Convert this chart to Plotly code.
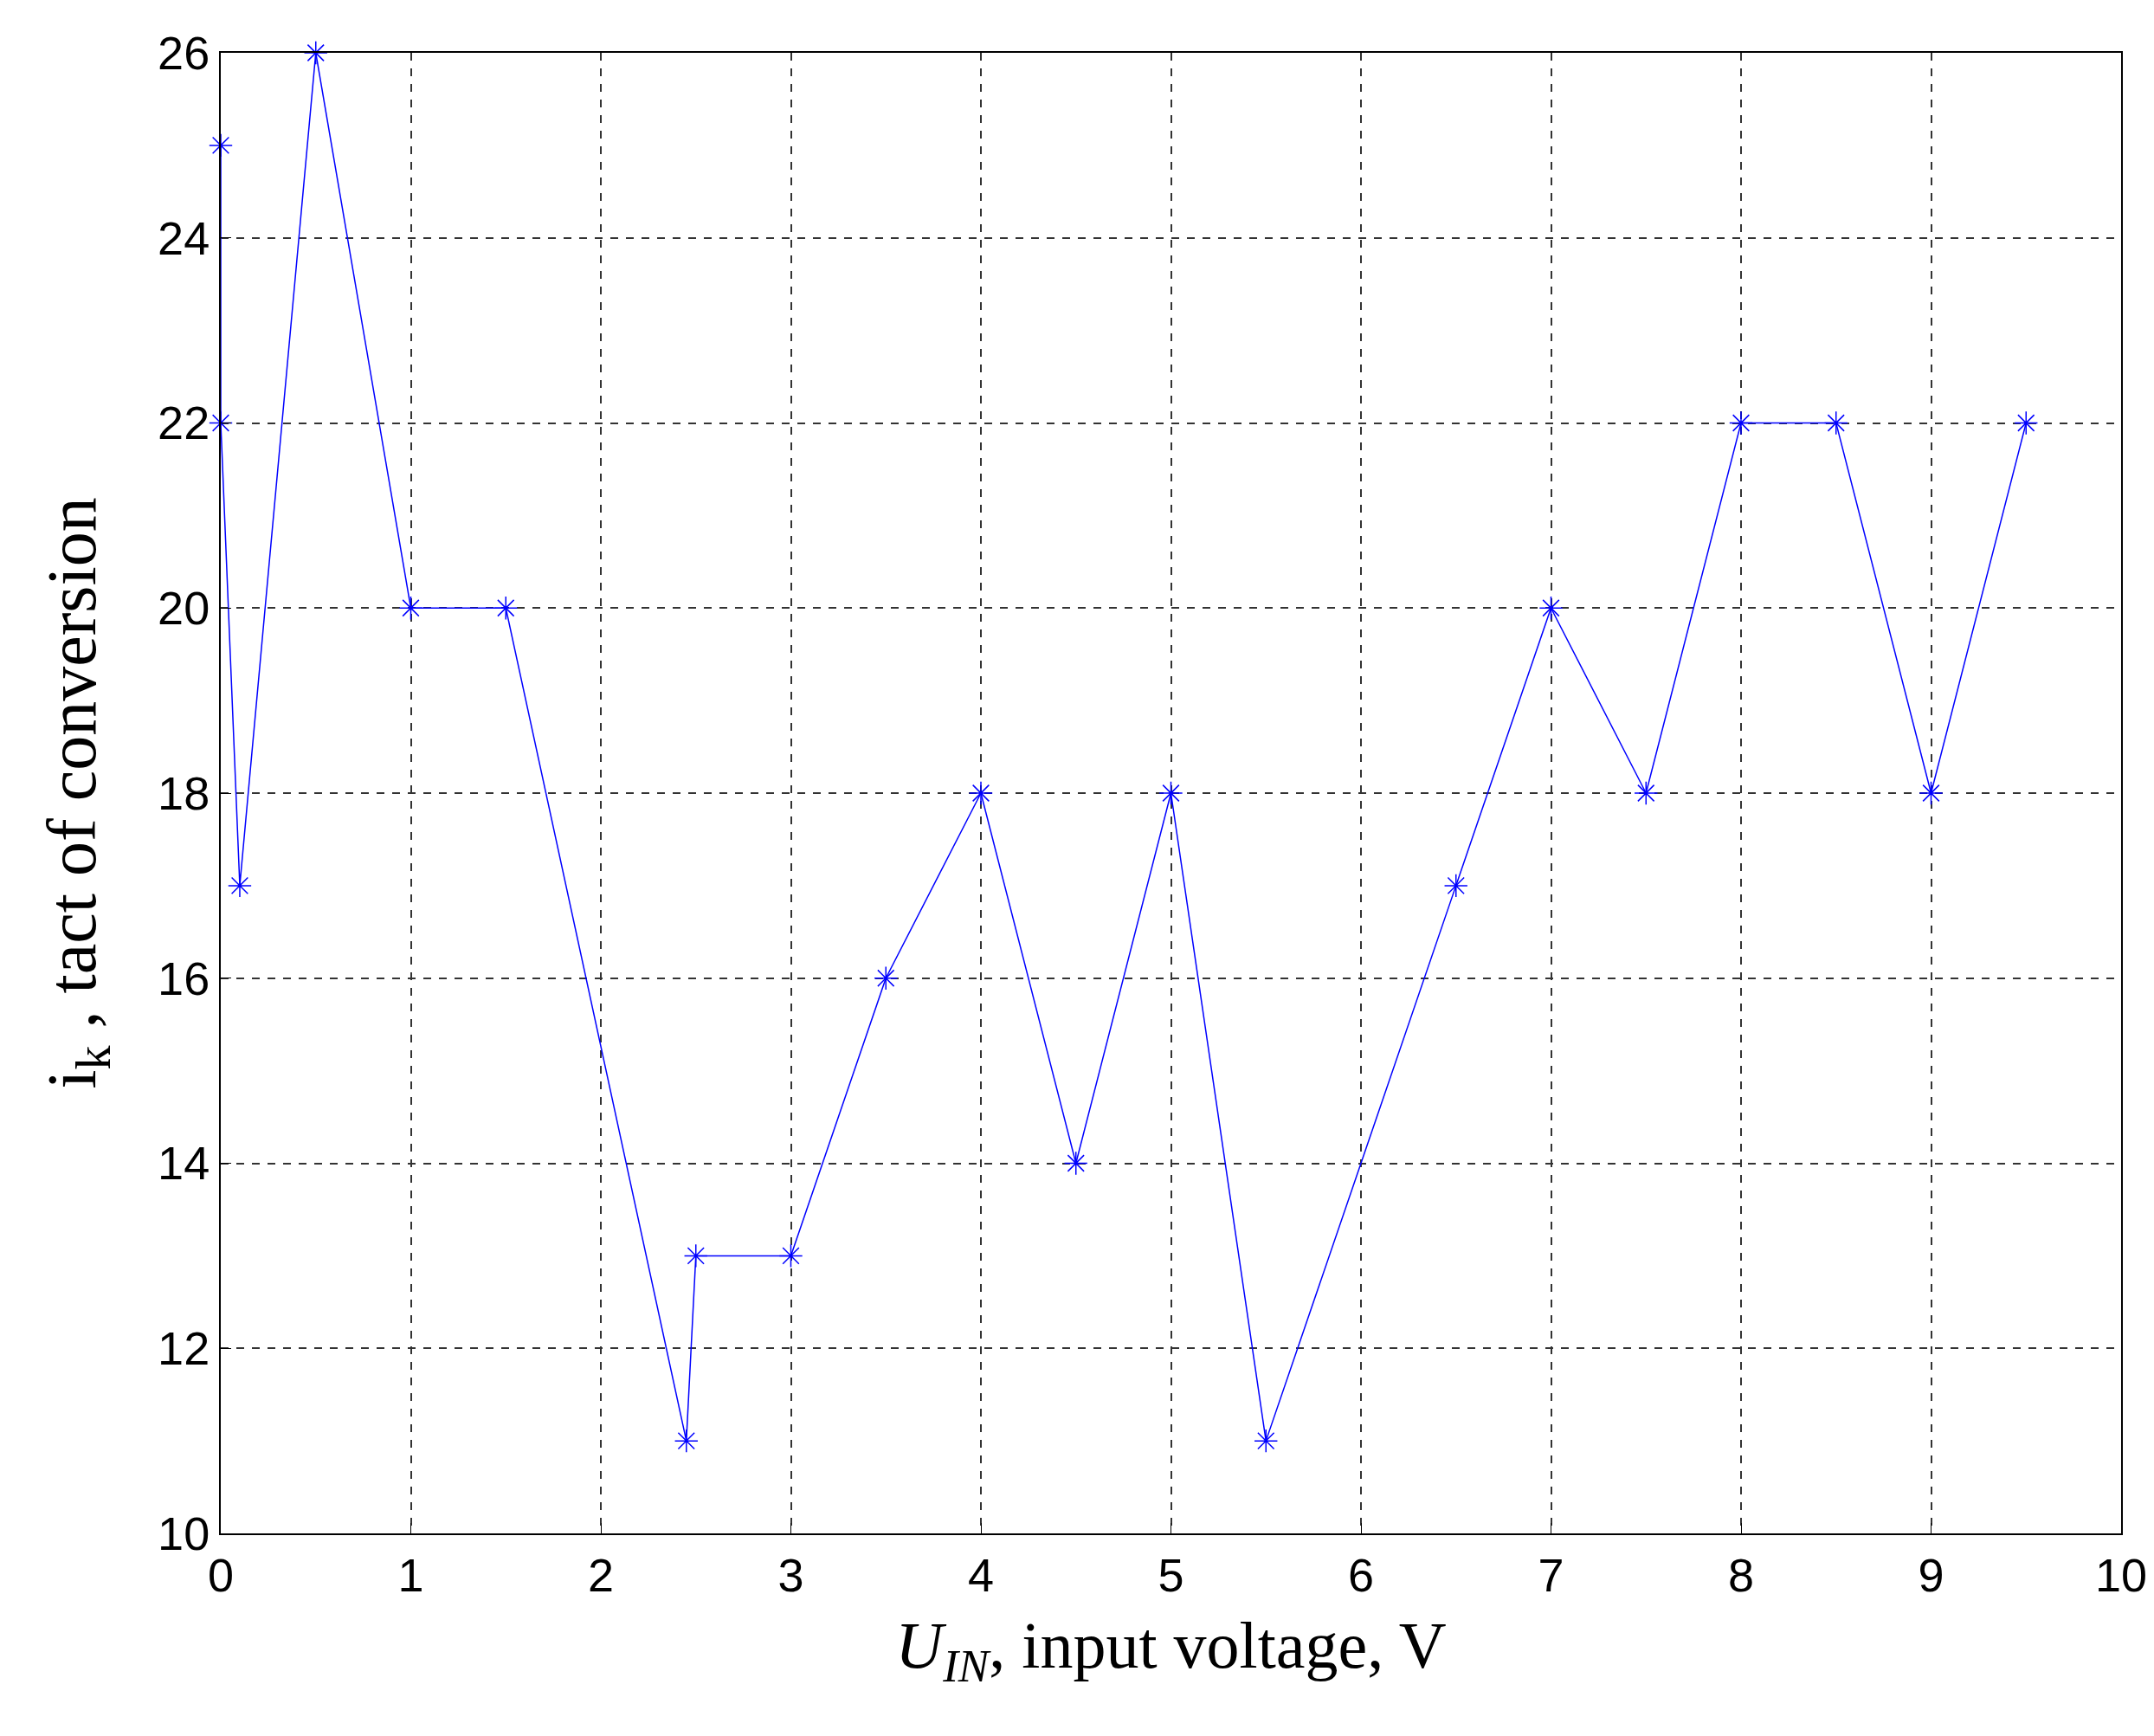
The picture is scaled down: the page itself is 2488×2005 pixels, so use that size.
import plotly.graph_objects as go

x_vals = [0, 0, 0.1, 0.5, 1, 1.5, 2.45, 2.5, 3, 3.5, 4, 4.5, 5, 5.5, 6.5, 7, 7.5, 8, 8.5, 9, 9.5]
y_vals = [25, 22, 17, 26, 20, 20, 11, 13, 13, 16, 18, 14, 18, 11, 17, 20, 18, 22, 22, 18, 22]
x_ticks = list(range(0, 11))
y_ticks = list(range(10, 27, 2))

fig = go.Figure(go.Scatter(
    x=x_vals, y=y_vals, mode="lines+markers",
    line=dict(color="#0000ff", width=1.5),
    marker=dict(symbol="asterisk-open", size=22, color="#0000ff", line=dict(color="#0000ff", width=1.5)),
    cliponaxis=False,
))

axis_common = dict(showline=True, linecolor="black", linewidth=2, mirror=True,
                   showgrid=True, gridcolor="#333333", griddash="dash", gridwidth=1.5,
                   ticks="inside", ticklen=12, tickcolor="black", zeroline=False,
                   tickfont=dict(family="Liberation Sans", size=54, color="black"))

fig.update_xaxes(range=[0, 10], tickvals=x_ticks, **axis_common,
                 title=dict(text="<i>U<sub>IN</sub></i>, input voltage, V",
                            font=dict(family="Liberation Serif", size=76, color="black"), standoff=25))
fig.update_yaxes(range=[10, 26], tickvals=y_ticks, **axis_common,
                 title=dict(text="i<sub>k</sub> , tact of conversion",
                            font=dict(family="Liberation Serif", size=80, color="black"), standoff=45))

fig.update_layout(width=2488, height=2005, plot_bgcolor="white", paper_bgcolor="white",
                  showlegend=False, margin=dict(l=247, r=46, t=53, b=242))
fig.write_html("out.html")
